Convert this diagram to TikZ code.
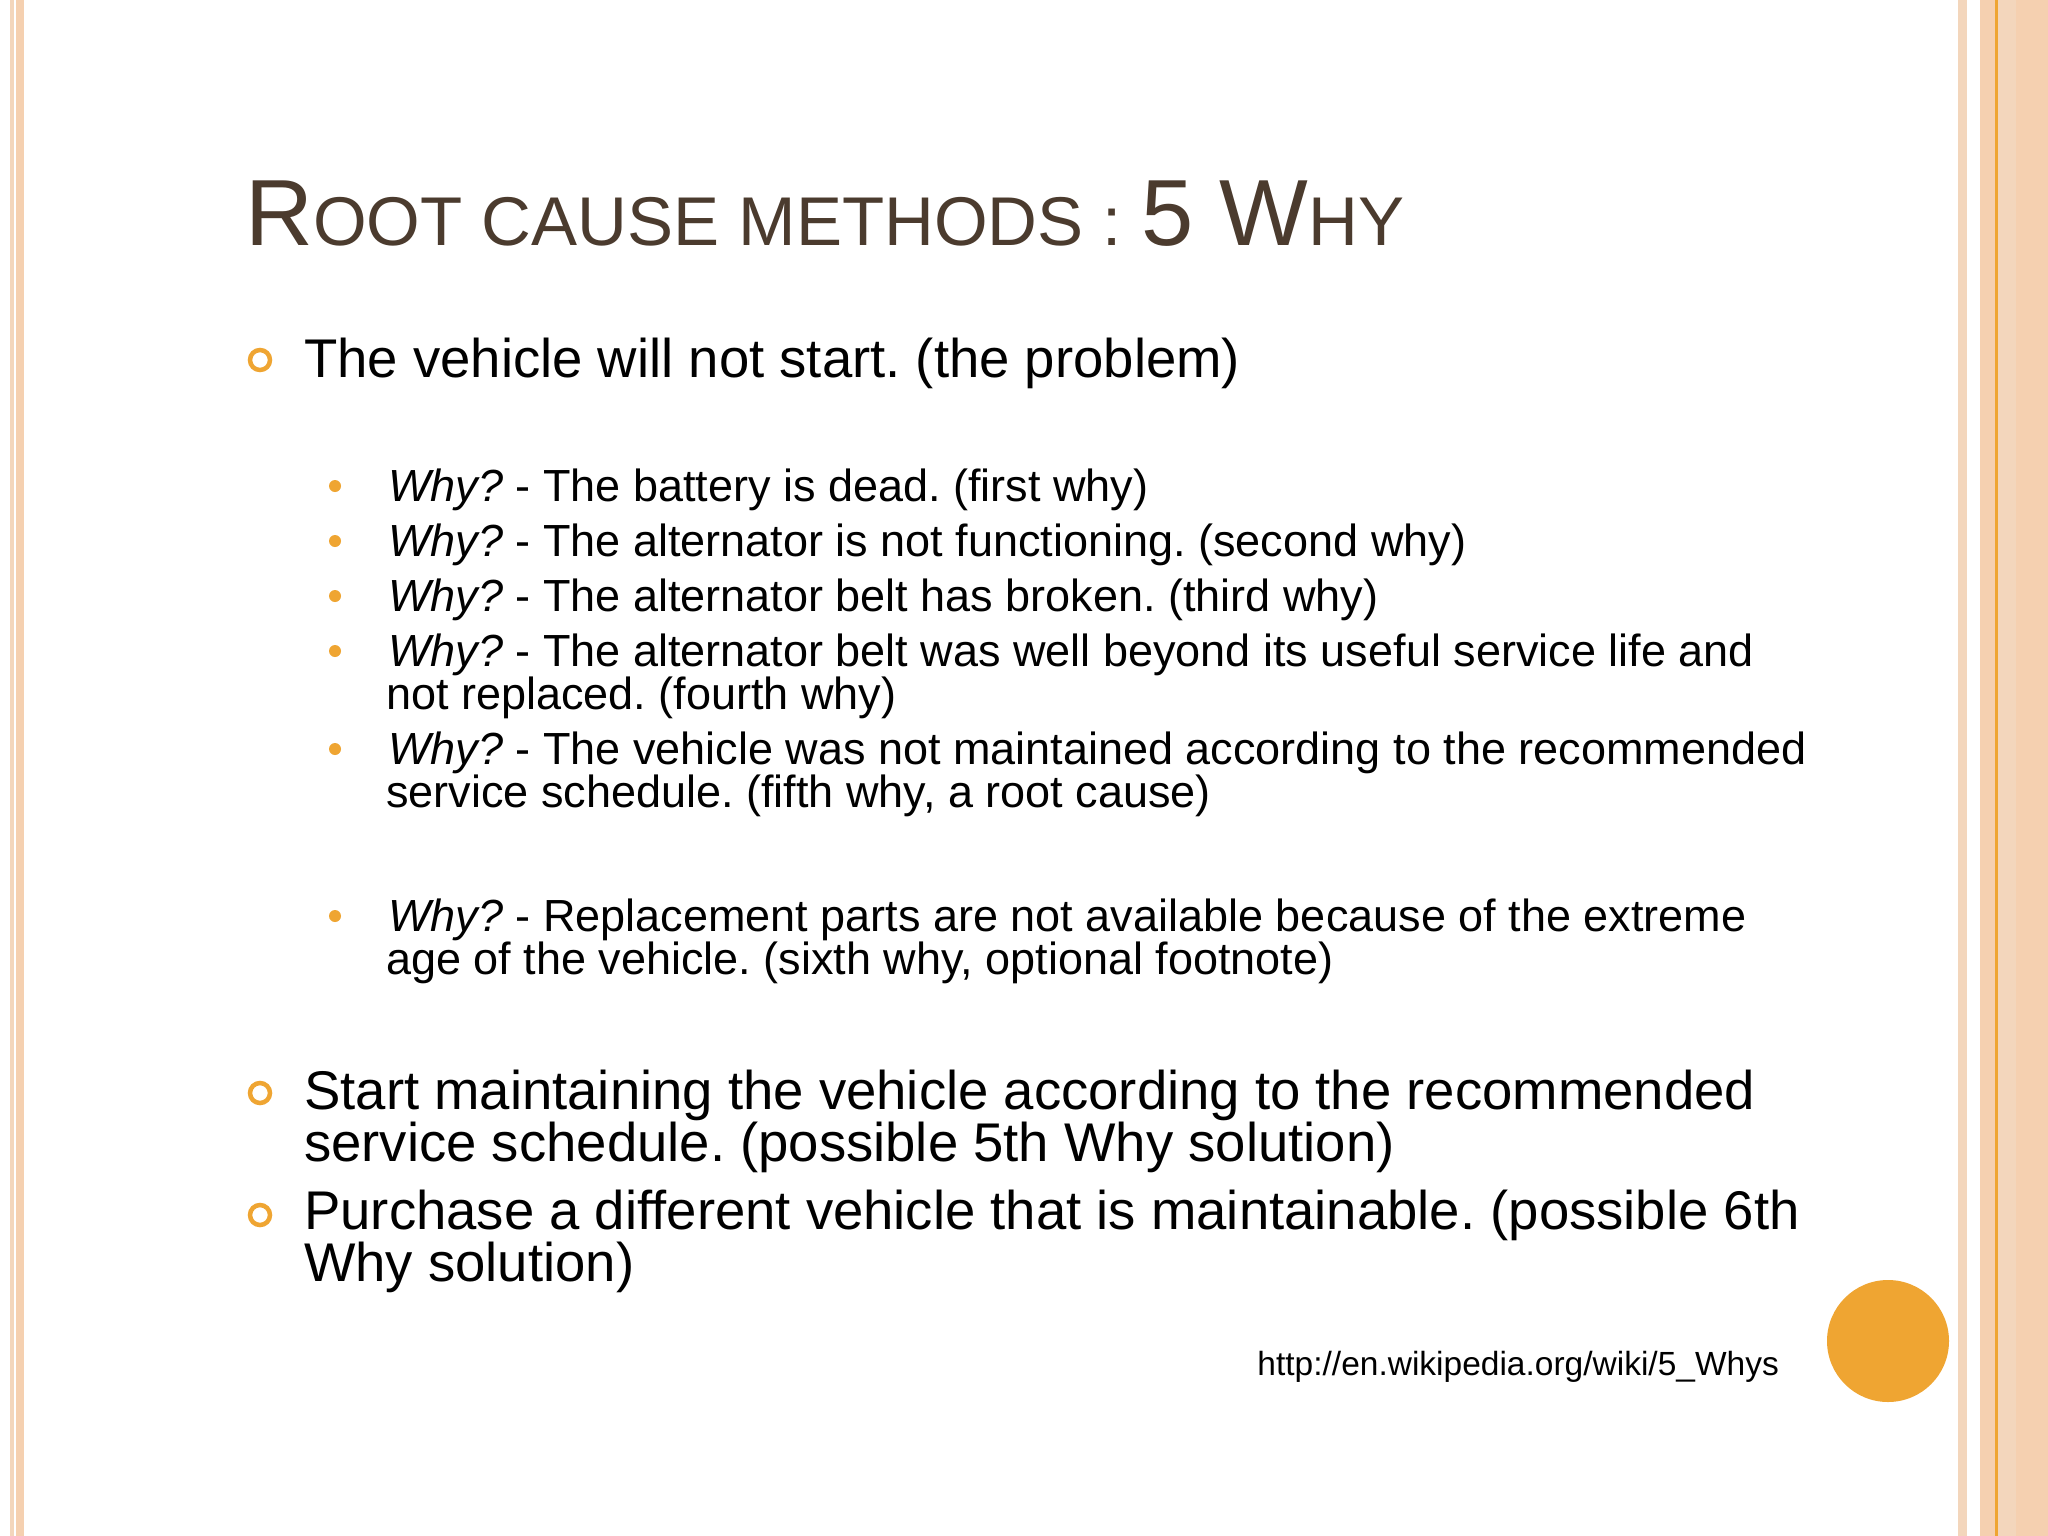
\documentclass[tikz,border=0pt]{standalone}
\usepackage{fontspec}
\setmainfont{Liberation Sans}
\frenchspacing
\definecolor{peach}{HTML}{F5D0B0}
\definecolor{lpeach}{HTML}{F3D6BC}
\definecolor{org}{HTML}{EFA532}
\definecolor{ttl}{HTML}{4B3B2E}
\begin{document}
\begin{tikzpicture}[x=1pt,y=-1pt,
  big/.style={anchor=base west,inner sep=0,font=\fontsize{54.5}{52}\selectfont},
  sub/.style={anchor=base west,inner sep=0,font=\fontsize{45}{43}\selectfont},
  ring/.style={draw=org,line width=4.5pt,circle,minimum size=20pt,inner sep=0},
  dot/.style={fill=org,circle,minimum size=12pt,inner sep=0}]
\useasboundingbox (0,0) rectangle (2048,1536);
\fill[white] (0,0) rectangle (2048,1536);
% borders
\fill[lpeach] (10,0) rectangle (14,1536);
\fill[peach] (16,0) rectangle (24,1536);
\fill[lpeach] (1958,0) rectangle (1967,1536);
\fill[peach] (1980,0) rectangle (2048,1536);
\fill[org] (1995,0) rectangle (1998,1536);
\fill[lpeach] (1998,0) rectangle (2016,1536);
% title
\node[anchor=base west,inner sep=0,text=ttl] (title) at (245,245)
 {\fontsize{94}{94}\selectfont R\fontsize{69}{69}\selectfont OOT CAUSE METHODS : \fontsize{94}{94}\selectfont 5 W\fontsize{69}{69}\selectfont HY};
% main bullets
\node[ring] (b1) at (260,360) {};
\node[big] (t1) at (304,377) {The vehicle will not start. (the problem)};
\node[ring] (b2) at (260,1093) {};
\node[big] (t2a) at (304,1109) {Start maintaining the vehicle according to the recommended};
\node[big] (t2b) at (304,1161) {service schedule. (possible 5th Why solution)};
\node[ring] (b3) at (260,1215) {};
\node[big] (t3a) at (304,1229) {Purchase a different vehicle that is maintainable. (possible 6th};
\node[big] (t3b) at (304,1281) {Why solution)};
% sub bullets
\node[dot] (d1) at (335,486) {};
\node[sub] (s1) at (388,501) {\textit{Why?} - The battery is dead. (first why)};
\node[dot] (d2) at (335,541) {};
\node[sub] (s2) at (388,556) {\textit{Why?} - The alternator is not functioning. (second why)};
\node[dot] (d3) at (335,596) {};
\node[sub] (s3) at (388,611) {\textit{Why?} - The alternator belt has broken. (third why)};
\node[dot] (d4) at (335,651) {};
\node[sub] (s4a) at (388,666) {\textit{Why?} - The alternator belt was well beyond its useful service life and};
\node[sub] (s4b) at (386,709) {not replaced. (fourth why)};
\node[dot] (d5) at (335,749) {};
\node[sub] (s5a) at (388,764) {\textit{Why?} - The vehicle was not maintained according to the recommended};
\node[sub] (s5b) at (386,807) {service schedule. (fifth why, a root cause)};
\node[dot] (d6) at (335,916) {};
\node[sub] (s6a) at (388,931) {\textit{Why?} - Replacement parts are not available because of the extreme};
\node[sub] (s6b) at (386,974) {age of the vehicle. (sixth why, optional footnote)};
% url
\node[anchor=base east,inner sep=0,font=\fontsize{33.5}{33.5}\selectfont] (url) at (1779,1375) {http://en.wikipedia.org/wiki/5\_Whys};
\fill[org] (1888,1341) circle (61);
\end{tikzpicture}
\end{document}
